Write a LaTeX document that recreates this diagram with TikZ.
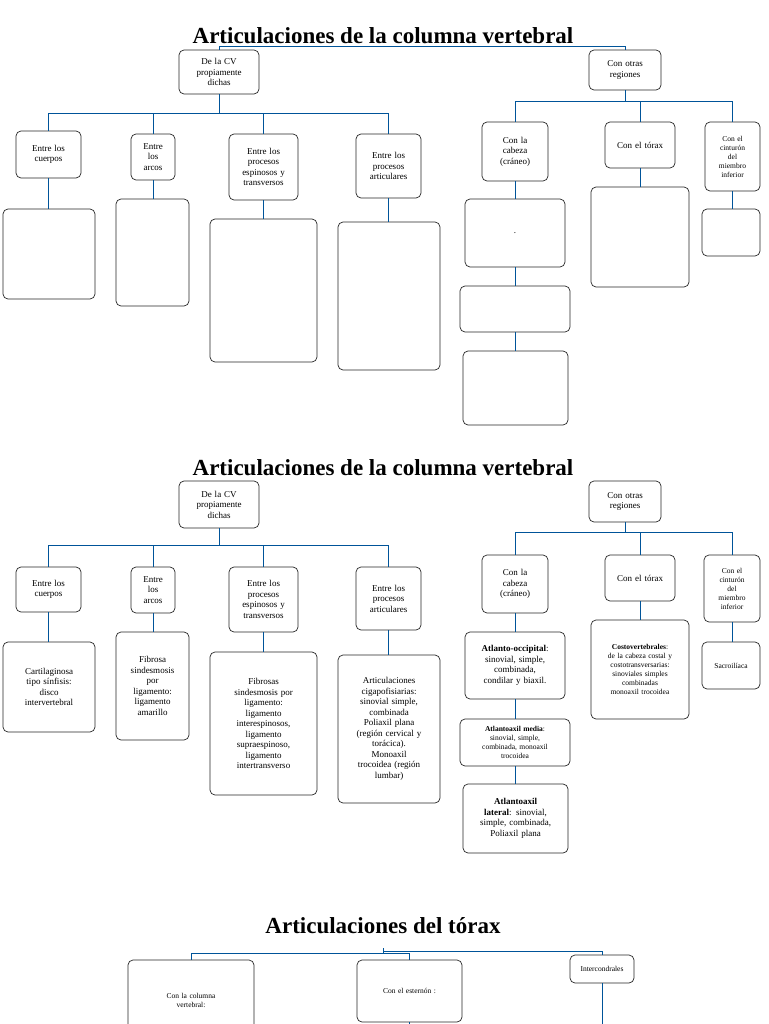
\documentclass[tikz,border=0pt]{standalone}
\usepackage{fontspec}
\setmainfont{Liberation Serif}
\begin{document}
\begin{tikzpicture}[x=1pt,y=-1pt,
  bx/.style={draw=black!85,rounded corners=5pt,line width=0.7pt,align=center,inner sep=1pt,font=\fontsize{9}{10.5}\selectfont},
  sm/.style={font=\fontsize{7.5}{9}\selectfont},
  ln/.style={draw=blue!45!cyan!60!black,line width=0.8pt},
  ttl/.style={font=\fontsize{23}{26}\selectfont\bfseries}]
\useasboundingbox (0,0) rectangle (768,1024);
\newcommand\bx[6]{\node[bx,minimum width={(#4-#2)*1pt},minimum height={(#5-#3)*1pt},text width={(#4-#2-6)*1pt}] (#1) at ({(#2+#4)/2},{(#3+#5)/2}) {#6};}
\newcommand\bxs[6]{\node[bx,sm,minimum width={(#4-#2)*1pt},minimum height={(#5-#3)*1pt},text width={(#4-#2-4)*1pt}] (#1) at ({(#2+#4)/2},{(#3+#5)/2}) {#6};}
% ---------- section 1
\node[ttl] (t1) at (383,36) {Articulaciones de la columna vertebral};
\bx{a}{179}{50}{259}{94}{De la CV\\propiamente\\dichas}
\bx{b}{589}{50}{661}{90}{Con otras\\regiones}
\bx{a1}{16}{131}{81}{178}{Entre los\\cuerpos}
\bx{a2}{131}{134}{175}{180}{Entre\\los\\arcos}
\bx{a3}{229}{134}{298}{200}{Entre los\\procesos\\espinosos y\\transversos}
\bx{a4}{356}{134}{421}{198}{Entre los\\procesos\\articulares}
\bx{a1c}{3}{209}{95}{299}{}
\bx{a2c}{116}{199}{189}{306}{}
\bx{a3c}{210}{219}{317}{362}{}
\bx{a4c}{338}{222}{440}{370}{}
\bx{b1}{482}{122}{548}{181}{Con la\\cabeza\\(cráneo)}
\bx{b2}{605}{122}{675}{168}{Con el tórax}
\bxs{b3}{705}{122}{760}{191}{Con el\\cinturón\\del\\miembro\\inferior}
\bx{b1c}{465}{199}{565}{267}{.}
\bx{b1d}{460}{286}{570}{332}{}
\bx{b1e}{463}{351}{568}{425}{}
\bx{b2c}{591}{187}{689}{287}{}
\bx{b3c}{702}{209}{760}{256}{}
\draw[ln] (a.north) -- (a.north |- 0,46) -| (b.north);
\foreach \n in {a1,a2,a3,a4} \draw[ln] (a.south) -- (a.south |- 0,113) -| (\n.north);
\foreach \n in {b1,b2,b3} \draw[ln] (b.south) -- (b.south |- 0,101) -| (\n.north);
\foreach \p/\q in {a1/a1c,a2/a2c,a3/a3c,a4/a4c,b1/b1c,b1c/b1d,b1d/b1e,b2/b2c,b3/b3c} \draw[ln] (\p.south) -- (\p.south |- \q.north);
% ---------- section 2
\node[ttl] (t2) at (383,468) {Articulaciones de la columna vertebral};
\bx{c}{179}{481}{259}{528}{De la CV\\propiamente\\dichas}
\bx{d}{589}{481}{661}{522}{Con otras\\regiones}
\bx{c1}{16}{567}{81}{612}{Entre los\\cuerpos}
\bx{c2}{131}{567}{175}{613}{Entre\\los\\arcos}
\bx{c3}{229}{567}{298}{632}{Entre los\\procesos\\espinosos y\\transversos}
\bx{c4}{356}{567}{421}{630}{Entre los\\procesos\\articulares}
\bx{c1c}{3}{642}{95}{732}{Cartilaginosa\\tipo sínfisis:\\disco\\intervertebral}
\bx{c2c}{116}{632}{189}{740}{Fibrosa\\sindesmosis\\por\\ligamento:\\ligamento\\amarillo}
\bx{c3c}{210}{652}{317}{795}{Fibrosas\\sindesmosis por\\ligamento:\\ligamento\\interespinosos,\\ligamento\\supraespinoso,\\ligamento\\intertransverso}
\bx{c4c}{338}{655}{440}{803}{Articulaciones\\cigapofisiarias:\\sinovial simple,\\combinada\\Poliaxil plana\\(región cervical y\\torácica).\\Monoaxil\\trocoidea (región\\lumbar)}
\bx{d1}{482}{555}{548}{613}{Con la\\cabeza\\(cráneo)}
\bx{d2}{605}{555}{675}{601}{Con el tórax}
\bxs{d3}{704}{555}{760}{622}{Con el\\cinturón\\del\\miembro\\inferior}
\bx{d1c}{465}{632}{565}{699}{\textbf{Atlanto-occipital}:\\sinovial, simple,\\combinada,\\condilar y biaxil.}
\bxs{d1d}{460}{719}{570}{766}{\textbf{Atlantoaxil media}:\\sinovial, simple,\\combinada, monoaxil\\trocoidea}
\bx{d1e}{463}{784}{568}{853}{\textbf{Atlantoaxil}\\\textbf{lateral}: sinovial,\\simple, combinada,\\Poliaxil plana}
\bxs{d2c}{591}{620}{689}{719}{\textbf{Costovertebrales}:\\de la cabeza costal y\\costotransversarias:\\sinoviales simples\\combinadas\\monoaxil trocoidea}
\bxs{d3c}{702}{642}{760}{689}{Sacroilíaca}
\foreach \n in {c1,c2,c3,c4} \draw[ln] (c.south) -- (c.south |- 0,545) -| (\n.north);
\foreach \n in {d1,d2,d3} \draw[ln] (d.south) -- (d.south |- 0,532) -| (\n.north);
\foreach \p/\q in {c1/c1c,c2/c2c,c3/c3c,c4/c4c,d1/d1c,d1c/d1d,d1d/d1e,d2/d2c,d3/d3c} \draw[ln] (\p.south) -- (\p.south |- \q.north);
% ---------- section 3
\node[ttl] (t3) at (383,926) {Articulaciones del tórax};
\coordinate (r) at (383,948);
\bxs{e1}{128}{960}{254}{1040}{Con la columna\\vertebral:\\[22pt]}
\bxs{e2}{357}{960}{462}{1022}{Con el esternón :\\[12pt]}
\bxs{e3}{570}{955}{634}{983}{Intercondrales}
\coordinate (e2b) at (e2.south |- 0,1024);
\coordinate (e3b) at (e3.south |- 0,1024);
\draw[ln] (r) -- ++(0,5) -| (e1.north);
\draw[ln] (r |- 0,953) -| (e2.north);
\draw[ln] (r |- 0,951) -| (e3.north);
\draw[ln] (e2.south) -- (e2b);
\draw[ln] (e3.south) -- (e3b);
\end{tikzpicture}
\end{document}
